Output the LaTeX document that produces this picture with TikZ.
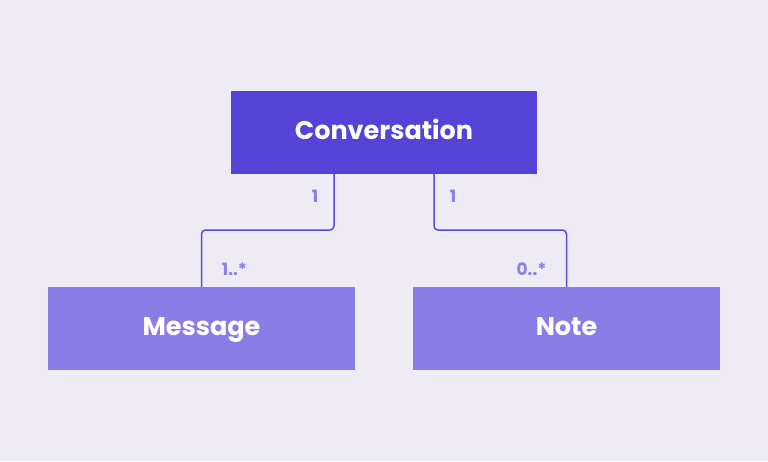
\documentclass[tikz,border=0pt]{standalone}
\usepackage{fontspec}
\setmainfont{Poppins}
\usetikzlibrary{positioning}
\usetikzlibrary{calc}
\definecolor{bgLav}{HTML}{EEEBF5}
\definecolor{boxTop}{HTML}{5543D7}
\definecolor{boxSub}{HTML}{8A7DE6}
\definecolor{lineCol}{HTML}{5A49DD}
\definecolor{multCol}{HTML}{8B7FE8}
\tikzset{boxMain/.style={minimum width=306pt, minimum height=83pt, fill=boxTop, text=white, text height=1.3em, text depth=0pt, font=\fontsize{25.5}{30}\selectfont\bfseries}}
\tikzset{boxPart/.style={minimum width=307pt, minimum height=83pt, fill=boxSub, text=white, text height=1.3em, text depth=0pt, font=\fontsize{25.5}{30}\selectfont\bfseries}}
\tikzset{assoc/.style={draw=lineCol, line width=1.5pt, rounded corners=4pt}}
\tikzset{mult/.style={text=multCol, inner sep=0pt, text height=1.5em, text depth=0pt, font=\fontsize{17}{20}\selectfont\bfseries}}

\begin{document}
\begin{tikzpicture}[x=1pt, y=-1pt]

\fill[bgLav] (0,0) rectangle (768,461);
\useasboundingbox (0,0) rectangle (768,461);

\node[boxMain] (conv) at (384, 132.5) {Conversation};
\node[boxPart] (msg) at (201.5, 328.5) {Message};
\node[boxPart] (note) at (566.5, 328.5) {Note};

\coordinate (bendL) at (334, 230);
\coordinate (bendR) at (434, 230);

\draw[assoc] (conv.south -| bendL) -- (bendL) -| (msg.north);
\draw[assoc] (conv.south -| bendR) -- (bendR) -| (note.north);

\node[mult] (mConvL) at (315, 194.5) {1};
\node[mult] (mConvR) at (453, 194.5) {1};
\node[mult] (mMsg) at (234.5, 268) {1..*};
\node[mult] (mNote) at (531.5, 268) {0..*};

\end{tikzpicture}
\end{document}
